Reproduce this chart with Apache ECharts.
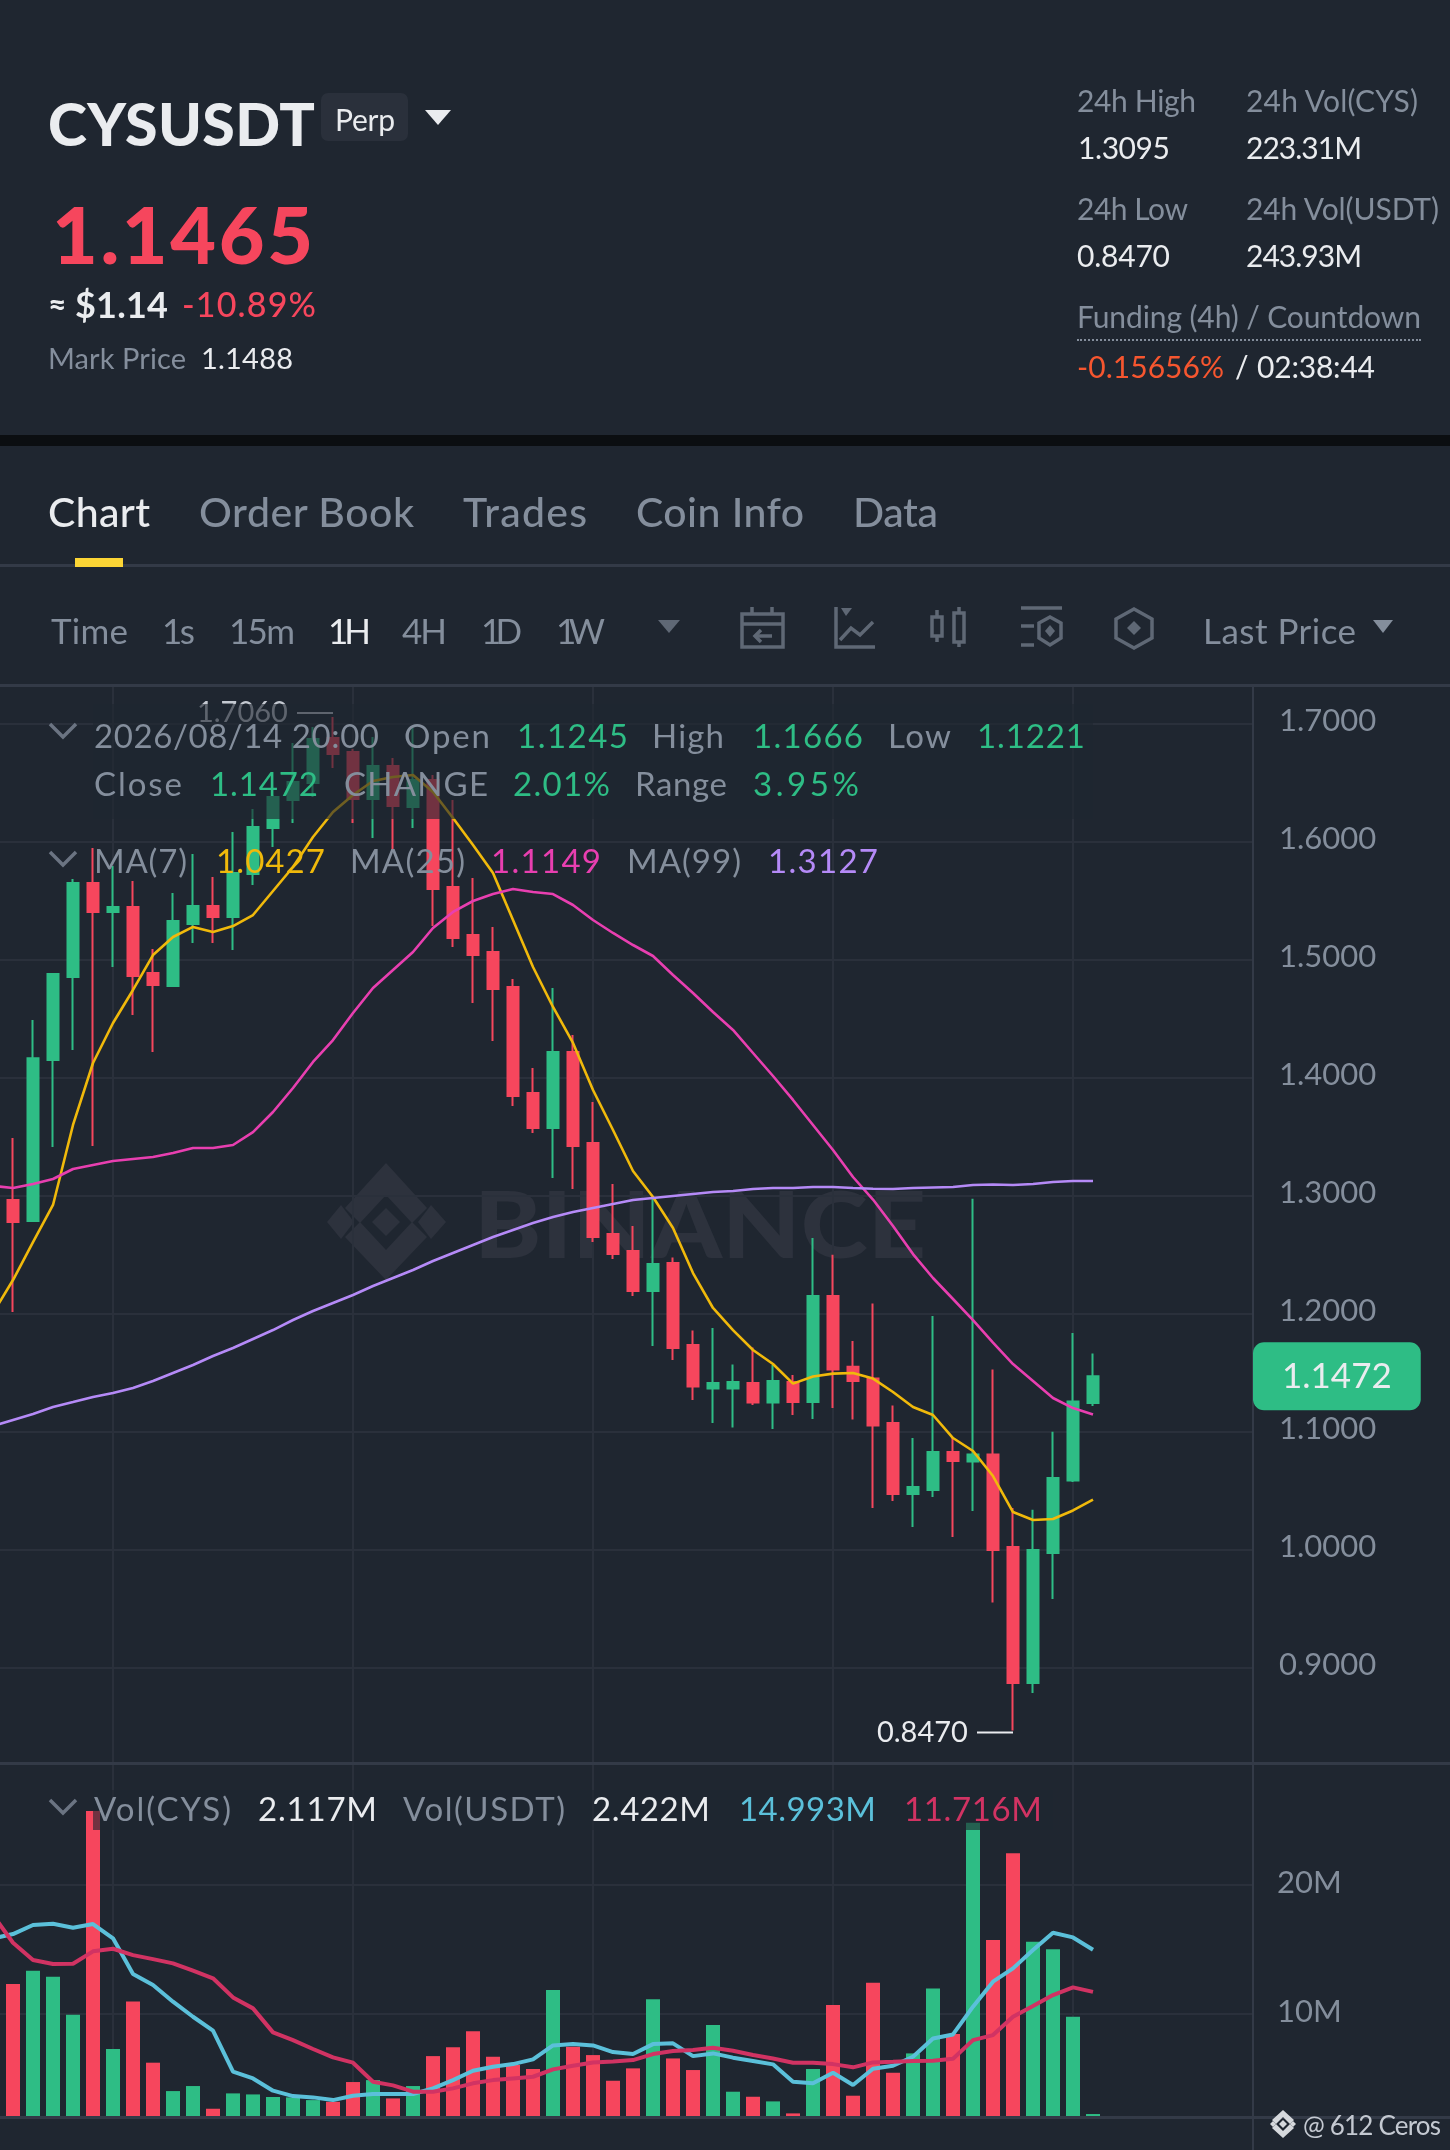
<!DOCTYPE html>
<html><head><meta charset="utf-8">
<style>
html,body{margin:0;padding:0;background:#1f2630;width:1450px;height:2150px;overflow:hidden;font-family:Lato,"Noto Sans",sans-serif}
#chart{position:absolute;left:0;top:0;width:1450px;height:2150px;z-index:2}
#wm{position:absolute;left:0;top:0;z-index:1}
#top{position:absolute;left:0;top:0;width:1450px;height:2150px;z-index:3;pointer-events:none}
.t{position:absolute;white-space:nowrap;line-height:1;transform:translateY(-50%)}
.b{position:absolute}
</style>
<script src="https://cdn.jsdelivr.net/npm/echarts@6/dist/echarts.min.js"></script>
</head><body>
<svg id="wm" width="1450" height="2150">
  <g fill="#2d323d">
    <path d="M386 1163 L427 1208 L412 1223 L386 1195 L360 1223 L345 1208Z"/>
    <path d="M386 1280 L427 1237 L412 1222 L386 1250 L360 1222 L345 1237Z"/>
    <path d="M386 1208 L400 1222 L386 1236 L372 1222Z"/>
    <path d="M341 1205 L354 1222 L341 1239 L327 1222Z"/>
    <path d="M431 1205 L446 1222 L431 1239 L418 1222Z"/>
    <text x="474" y="1258" font-family="Lato" font-weight="900" font-size="92" textLength="452" lengthAdjust="spacingAndGlyphs">BINANCE</text>
  </g>
</svg>
<div id="chart"></div>
<div id="top"></div>
<script>
const categories=["08/12 13:00","08/12 14:00","08/12 15:00","08/12 16:00","08/12 17:00","08/12 18:00","08/12 19:00","08/12 20:00","08/12 21:00","08/12 22:00","08/12 23:00","08/13 00:00","08/13 01:00","08/13 02:00","08/13 03:00","08/13 04:00","08/13 05:00","08/13 06:00","08/13 07:00","08/13 08:00","08/13 09:00","08/13 10:00","08/13 11:00","08/13 12:00","08/13 13:00","08/13 14:00","08/13 15:00","08/13 16:00","08/13 17:00","08/13 18:00","08/13 19:00","08/13 20:00","08/13 21:00","08/13 22:00","08/13 23:00","08/14 00:00","08/14 01:00","08/14 02:00","08/14 03:00","08/14 04:00","08/14 05:00","08/14 06:00","08/14 07:00","08/14 08:00","08/14 09:00","08/14 10:00","08/14 11:00","08/14 12:00","08/14 13:00","08/14 14:00","08/14 15:00","08/14 16:00","08/14 17:00","08/14 18:00","08/14 19:00","08/14 20:00","08/14 21:00","08/14 22:00","08/14 23:00","08/15 00:00","08/15 01:00","08/15 02:00","08/15 03:00","08/15 04:00"];
const opens=[1.2966,1.2788,1.4153,1.4856,1.5653,1.5407,1.5449,1.489,1.478,1.5305,1.5458,1.5364,1.5729,1.6119,1.6356,1.65,1.6881,1.6763,1.6364,1.6644,1.6297,1.6525,1.5619,1.5212,1.5068,1.4771,1.3873,1.3576,1.422,1.3449,1.2678,1.2534,1.2195,1.2432,1.1737,1.1369,1.1369,1.1415,1.1249,1.1424,1.1254,1.2153,1.1554,1.1453,1.1076,1.0475,1.0508,1.0831,1.075,1.0809,1.0025,0.8873,0.9975,1.0588,1.1245];
const closes=[1.278,1.4167,1.4881,1.5653,1.5407,1.5449,1.4864,1.4788,1.5331,1.5458,1.5364,1.5737,1.6127,1.6381,1.6508,1.6873,1.6746,1.6364,1.6644,1.6305,1.6525,1.5602,1.5186,1.5042,1.4754,1.3847,1.3576,1.422,1.3424,1.2653,1.2508,1.2195,1.2424,1.1712,1.1386,1.1415,1.1424,1.1249,1.1432,1.1254,1.2153,1.153,1.1432,1.1055,1.0475,1.0534,1.0831,1.0754,1.0809,1.0,0.8873,1.0,1.061,1.1259,1.1472];
const lows=[1.2017,1.278,1.3415,1.4237,1.3424,1.4941,1.4534,1.422,1.4776,1.5144,1.5144,1.5085,1.5636,1.5958,1.6161,1.6381,1.6627,1.6161,1.6034,1.5932,1.6119,1.5288,1.511,1.4636,1.4314,1.3763,1.3534,1.3153,1.3059,1.261,1.2466,1.2153,1.1729,1.161,1.1271,1.1076,1.1038,1.1229,1.1025,1.1144,1.111,1.1203,1.1105,1.0356,1.0415,1.0195,1.0449,1.011,1.0331,0.9555,0.847,0.8788,0.9585,1.0576,1.1221];
const highs=[1.3492,1.4492,1.489,1.5686,1.5949,1.5797,1.5669,1.5093,1.5568,1.5898,1.5703,1.6085,1.628,1.6398,1.6839,1.6975,1.706,1.6788,1.689,1.6712,1.6975,1.6568,1.6356,1.5695,1.528,1.4839,1.4085,1.4763,1.4364,1.3797,1.3102,1.2746,1.2992,1.2479,1.186,1.1881,1.1572,1.1716,1.1568,1.1483,1.2644,1.2503,1.1771,1.2088,1.1224,1.0949,1.1983,1.0949,1.2977,1.153,1.0356,1.0342,1.1003,1.1839,1.1666];
const ma7=[1.2008,1.2288,1.261,1.2924,1.3602,1.4127,1.4466,1.4746,1.5042,1.5195,1.528,1.5237,1.5288,1.5381,1.5585,1.5788,1.6042,1.6254,1.6398,1.6517,1.6551,1.6568,1.6424,1.6203,1.5975,1.5737,1.5339,1.4941,1.4602,1.4297,1.3898,1.3559,1.3212,1.2992,1.2729,1.2347,1.2051,1.1864,1.1695,1.1576,1.141,1.147,1.1495,1.15,1.1453,1.1339,1.1212,1.1144,1.0949,1.0839,1.0627,1.0322,1.0254,1.0263,1.0335,1.0427];
const ma25=[1.3085,1.3068,1.3102,1.3144,1.3229,1.3263,1.3297,1.3314,1.3331,1.3364,1.3407,1.3407,1.3432,1.3542,1.3712,1.3915,1.4136,1.4322,1.4551,1.4763,1.4915,1.5068,1.5271,1.5407,1.55,1.5559,1.5602,1.5576,1.5559,1.5466,1.5339,1.5229,1.5127,1.5034,1.4873,1.472,1.4559,1.4407,1.4212,1.4017,1.3814,1.3602,1.339,1.3161,1.297,1.2746,1.2508,1.2305,1.2127,1.1949,1.1758,1.1576,1.1432,1.1288,1.1203,1.1149];
const ma99=[1.1051,1.1102,1.1153,1.1212,1.1254,1.1297,1.1331,1.1373,1.1432,1.15,1.1568,1.1644,1.1712,1.1788,1.1864,1.1949,1.2025,1.2093,1.2161,1.2237,1.2305,1.2373,1.2449,1.2517,1.2585,1.2653,1.2712,1.2771,1.2822,1.2864,1.2898,1.2932,1.2966,1.2983,1.3,1.3017,1.3034,1.3042,1.3059,1.3068,1.3068,1.3076,1.3076,1.3068,1.3062,1.3059,1.3068,1.3072,1.3076,1.3093,1.3097,1.3093,1.3102,1.3119,1.3127,1.3127];
const volumes=[12.33,13.36,12.9,9.95,25.74,7.29,10.98,6.23,4.03,4.42,2.66,3.85,3.77,3.57,3.54,3.33,3.2,4.73,4.88,3.46,4.42,6.74,7.42,8.66,6.69,6.05,5.74,11.86,7.47,6.82,4.83,5.79,11.14,6.56,5.66,9.15,3.98,3.59,3.23,2.3,5.74,10.7,3.67,12.43,5.45,6.95,11.99,8.45,24.83,15.74,22.46,15.6,15.02,9.79,2.25];
const volMaBlue=[15.87,16.2,16.9,17.0,16.69,16.98,15.87,13.1,12.25,10.96,9.79,8.71,5.53,5.01,4.06,3.64,3.54,3.33,3.67,3.8,3.8,3.8,4.24,4.88,5.61,5.92,6.12,6.49,7.57,7.67,7.57,7.05,6.9,7.67,7.73,6.74,6.95,6.62,6.36,6.1,4.75,4.63,5.45,4.5,5.76,5.99,6.69,8.11,8.42,10.57,12.51,13.54,14.96,16.3,15.94,14.99];
const volMaRed=[17.67,15.53,14.19,13.88,13.9,14.86,15.06,14.57,14.26,13.93,13.36,12.77,11.29,10.44,8.58,7.98,7.29,6.64,6.23,4.75,4.47,3.98,3.98,4.24,4.63,4.88,5.01,5.14,5.71,5.99,6.25,6.33,6.43,6.9,7.13,7.21,7.39,7.16,6.82,6.56,6.23,6.23,6.12,5.87,6.25,6.3,6.36,6.38,6.54,7.98,8.37,9.79,10.62,11.47,12.07,11.72];
const priceTicks=[0.9,1.0,1.1,1.2,1.3,1.4,1.5,1.6,1.7];
const volumeTicks=[10,20];

const UP='#2EBD85',DOWN='#F6465D',GRID='#2a303b',PANE='#333a47',AXT='#848E9C',BG='#1f2630';
const FF='Lato,"Noto Sans",sans-serif';
const ohlc=[['-','-','-','-']].concat(opens.map((o,i)=>[o,closes[i],lows[i],highs[i]]));
const vols=['-'].concat(volumes.map((v,i)=>({value:v,itemStyle:{color:closes[i]>=opens[i]?UP:DOWN}})));

const chart=echarts.init(document.getElementById('chart'),null,{renderer:'canvas'});
const xa=(g)=>({type:'category',gridIndex:g,data:categories,boundaryGap:false,axisLine:{show:false},axisTick:{show:false},axisLabel:{show:false},
  splitLine:{show:true,interval:(i)=>i%12===6,lineStyle:{color:GRID,width:2}}});
const line=(name,data,color,width,x,y)=>({name,type:'line',data,xAxisIndex:x,yAxisIndex:y,showSymbol:false,smooth:false,silent:true,lineStyle:{color,width},z:5});
const axisText=(pad)=>({a:{color:AXT,fontSize:31,fontFamily:FF,padding:[0,0,pad,0]}});
chart.setOption({
  animation:false,backgroundColor:'transparent',
  textStyle:{fontFamily:FF},
  grid:[{left:-7,width:1260,top:686,height:1077,outerBoundsMode:'none'},{left:-7,width:1260,top:1763,height:354,outerBoundsMode:'none'}],
  xAxis:[xa(0),xa(1)],
  yAxis:[
    {type:'value',gridIndex:0,position:'right',min:0.8195,max:1.7322,
     axisLine:{show:true,lineStyle:{color:PANE,width:2}},axisTick:{show:false,customValues:priceTicks},
     axisLabel:{customValues:priceTicks,margin:26,rich:axisText(6),formatter:(v)=>'{a|'+v.toFixed(4)+'}'},
     splitLine:{show:true,lineStyle:{color:GRID,width:2}}},
    {type:'value',gridIndex:1,position:'right',min:2.02,max:29.46,
     axisLine:{show:true,lineStyle:{color:PANE,width:2}},axisTick:{show:false,customValues:volumeTicks},
     axisLabel:{customValues:volumeTicks,margin:24,rich:axisText(4),formatter:(v)=>'{a|'+v+'M}'},
     splitLine:{show:true,lineStyle:{color:GRID,width:2}}}
  ],
  series:[
    {name:'Price',type:'candlestick',data:ohlc,xAxisIndex:0,yAxisIndex:0,barWidth:12,silent:true,
     itemStyle:{color:UP,color0:DOWN,borderColor:UP,borderColor0:DOWN,borderWidth:2},
     markPoint:{silent:true,symbol:'circle',symbolSize:0,animation:false,data:[
       {coord:[categories[17],1.706],value:'hi',label:{show:true,position:'left',distance:0,offset:[0,-4],formatter:'{t|1.7060}  {d|}',rich:{t:{fontSize:29,color:'#c4c9d1',fontFamily:FF,padding:[0,3,0,0]},d:{width:36,height:2,backgroundColor:'#c4c9d1'}}}},
       {coord:[categories[51],0.847],value:'lo',label:{show:true,position:'left',distance:0,offset:[0,2],formatter:'{t|0.8470}  {d|}',rich:{t:{fontSize:29,color:'#eaecef',fontFamily:FF,padding:[0,3,0,0]},d:{width:36,height:2,backgroundColor:'#eaecef'}}}},
       {coord:[categories[63],closes[closes.length-1]],value:'last',label:{show:true,position:'right',distance:0,formatter:closes[closes.length-1].toFixed(4),color:'#eaecef',fontSize:35,lineHeight:35,fontFamily:FF,backgroundColor:UP,borderRadius:11,padding:[17,29,16,29]}}
     ]}},
    line('MA(7)',ma7,'#F0B90B',2.6,0,0),
    line('MA(25)',ma25,'#E83FB0',2.6,0,0),
    line('MA(99)',ma99,'#B58AF7',2.6,0,0),
    {name:'Vol',type:'bar',data:vols,xAxisIndex:1,yAxisIndex:1,barWidth:14,silent:true},
    line('Vol MA blue',volMaBlue,'#5BC0DA',4,1,1),
    line('Vol MA red',volMaRed,'#D13363',4,1,1)
  ]
});

/* page furniture */
const top_=document.getElementById('top');
function box(x,y,w,h,c,r){const d=document.createElement('div');d.className='b';d.style.cssText=`left:${x}px;top:${y}px;width:${w}px;height:${h}px;background:${c};border-radius:${r||0}px`;top_.appendChild(d);}
function T(s,x,y,size,color,weight,right){const d=document.createElement('div');d.className='t';d.textContent=s;d.style.cssText=`left:${x}px;top:${y}px;font-size:${size}px;color:${color};font-weight:${weight||400}`;top_.appendChild(d);
  if(right){const w=d.getBoundingClientRect().width;d.style.letterSpacing=((right-x-w)/Math.max(1,s.length-1))+'px';}return d;}
const W='#eaecef',G=AXT;
box(0,435,1450,11,'#0b0e11');
box(0,564,1450,3,PANE);box(75,558,48,9,'#FCD535');box(0,684,1450,3,PANE);
box(93,704,1000,115,'rgba(31,38,48,.62)');box(93,1790,960,40,'rgba(31,38,48,.62)');
box(0,1762,1450,3,PANE);box(0,2116,1450,3,PANE);
box(1252,2117,2,33,PANE);
box(321,93,87,48,'#2a303b',7);
T('CYSUSDT',48,123,59,W,900,315);T('Perp',335,119,30,W,400,395);
T('1.1465',52,233,79,'#F6465D',900,313);
T('≈',48,304,32,W,700);T('$1.14',75,304,36,W,700,168);T('-10.89%',182,304,34,DOWN,500,316);
T('Mark Price',48,357,29,G,400,186);T('1.1488',201,357,29,W,400,293);
T('24h High',1077,100,30,G,400,1196);T('24h Vol(CYS)',1246,100,30,G,400,1418);
T('1.3095',1078,147,30,W,400,1170);T('223.31M',1246,147,30,W,400,1362);
T('24h Low',1077,208,30,G,400,1188);T('24h Vol(USDT)',1246,208,30,G,400,1439);
T('0.8470',1077,255,30,W,400,1170);T('243.93M',1246,255,30,W,400,1362);
T('Funding (4h) / Countdown',1077,316,30,G,400,1421);
const dot=document.createElement('div');dot.className='b';dot.style.cssText='left:1077px;top:339px;width:344px;height:0;border-top:2.5px dotted #848E9C';top_.appendChild(dot);
T('-0.15656%',1077,366,30,'#F6562F',400,1224);T('/',1235,366,30,W);T('02:38:44',1257,366,30,W,400,1375);
[['Chart',48,150,W],['Order Book',199,414,G],['Trades',463,587,G],['Coin Info',636,804,G],['Data',853,938,G]].forEach(a=>T(a[0],a[1],511,41,a[3],500,a[2]));
[['Time',51,128,G],['1s',162,195,G],['15m',229,295,G],['1H',328,371,W],['4H',402,447,G],['1D',481,522,G],['1W',556,605,G],['Last Price',1203,1356,G]].forEach(a=>T(a[0],a[1],630,35,a[3],400,a[2]));
/* legends */
const LS=33;
[['2026/08/14 20:00',94,379,735,G],['Open',404,490,735,G],['1.1245',517,628,735,UP],['High',652,724,735,G],['1.1666',753,863,735,UP],['Low',888,951,735,G],['1.1221',977,1085,735,UP],
 ['Close',94,182,783,G],['1.1472',210,318,783,UP],['CHANGE',344,488,783,G],['2.01%',513,610,783,UP],['Range',635,727,783,G],['3.95%',753,859,783,UP],
 ['MA(7)',94,187,860,G],['1.0427',216,325,860,'#F0B90B'],['MA(25)',350,465,860,G],['1.1149',491,601,860,'#E83FB0'],['MA(99)',627,741,860,G],['1.3127',768,878,860,'#B58AF7'],
 ['Vol(CYS)',94,231,1808,G],['2.117M',258,377,1808,W],['Vol(USDT)',403,565,1808,G],['2.422M',592,710,1808,W],['14.993M',739,876,1808,'#5BC0DA'],['11.716M',904,1042,1808,'#D13363']
].forEach(a=>T(a[0],a[1],a[3],LS,a[4],400,a[2]));
T('@ 612 Ceros',1303,2125,26,'#c4c9d1',400,1441);
/* icons */
const svg=document.createElementNS('http://www.w3.org/2000/svg','svg');
svg.setAttribute('width','1450');svg.setAttribute('height','2150');svg.style.cssText='position:absolute;left:0;top:0';
svg.innerHTML=`
<g fill="none" stroke="#6b7482" stroke-width="3.5">
 <polyline points="50,724 63,737 76,724"/><polyline points="50,852 63,865 76,852"/><polyline points="50,1800 63,1813 76,1800"/>
 <g stroke="#5f6875" stroke-width="3.5">
  <rect x="742" y="614" width="41" height="33"/><line x1="742" y1="624" x2="783" y2="624"/><line x1="752" y1="607" x2="752" y2="614"/><line x1="772" y1="607" x2="772" y2="614"/>
  <polyline points="772,636 755,636"/><polyline points="761,630 755,636 761,642"/>
  <polyline points="836,607 836,647 875,647"/><polyline points="840,640 851,628 860,635 873,622"/>
  <rect x="932" y="617" width="10" height="19"/><line x1="937" y1="610" x2="937" y2="617"/><line x1="937" y1="636" x2="937" y2="642"/>
  <rect x="954" y="613" width="10" height="29"/><line x1="959" y1="607" x2="959" y2="613"/><line x1="959" y1="642" x2="959" y2="647"/>
  <line x1="1021" y1="608" x2="1062" y2="608"/><line x1="1021" y1="626" x2="1034" y2="626"/><line x1="1021" y1="645" x2="1034" y2="645"/>
  <polygon points="1050,617 1061,623 1061,638 1050,645 1039,638 1039,623"/>
  <polygon points="1134,609 1152,619 1152,638 1134,648 1116,638 1116,619"/>
 </g>
</g>
<g fill="#5f6875">
 <polygon points="1134,621 1141,628 1134,635 1127,628"/><polygon points="1050,625 1055,631 1050,637 1045,631"/>
 <polygon points="841,608 852,608 846,616"/>
 <polygon points="658,620 680,620 669,633"/><polygon points="1373,620 1393,620 1383,633" fill="#848E9C"/>
</g>
<polygon points="425,110 451,110 438,125" fill="${W}"/>
<g fill="#d5d8dc">
 <polygon points="1283,2110 1294,2120 1290,2124 1283,2117 1276,2124 1272,2120"/>
 <polygon points="1283,2138 1294,2128 1290,2124 1283,2131 1276,2124 1272,2128"/>
 <polygon points="1283,2120 1287,2124 1283,2128 1279,2124"/>
 <polygon points="1270,2124 1273,2121 1276,2124 1273,2127"/><polygon points="1296,2124 1293,2121 1290,2124 1293,2127"/>
</g>`;
top_.appendChild(svg);
</script>
</body></html>
